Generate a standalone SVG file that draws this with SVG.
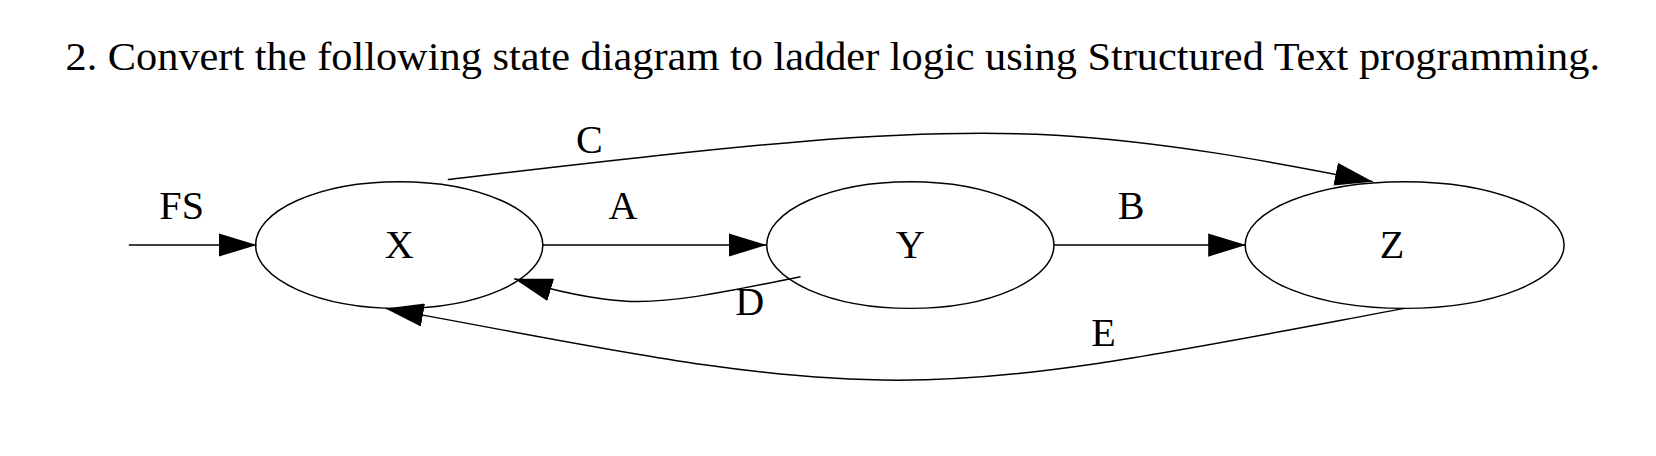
<svg xmlns="http://www.w3.org/2000/svg" width="1656" height="456" viewBox="0 0 1656 456">
<defs>
<marker id="ah" markerWidth="36" markerHeight="22" refX="36" refY="11" orient="auto" markerUnits="userSpaceOnUse"><path d="M0,0 L36,11 L0,22 Z" fill="#000"/></marker>
<style>
text{font-family:"Liberation Serif",serif;font-size:38px;fill:#000}
.n{text-anchor:middle}
ellipse{fill:none;stroke:#000;stroke-width:1.4}
.e{fill:none;stroke:#000;stroke-width:1.4;marker-end:url(#ah)}
</style>
</defs>
<rect width="1656" height="456" fill="#fff"/>
<g transform="scale(1.0561)">
<text x="62" y="66" textLength="1453" lengthAdjust="spacingAndGlyphs">2. Convert the following state diagram to ladder logic using Structured Text programming.</text>
<g id="X"><ellipse cx="378" cy="232" rx="136" ry="60"/><text class="n" x="378" y="244">X</text></g>
<g id="Y"><ellipse cx="862" cy="232" rx="136" ry="60"/><text class="n" x="862" y="244">Y</text></g>
<g id="Z"><ellipse cx="1330" cy="232" rx="151" ry="60"/><text class="n" x="1318" y="244">Z</text></g>
<g id="connectors">
<path class="e" d="M122,232 L243,232"/>
<path class="e" d="M514,232 L726,232"/>
<path class="e" d="M998,232 L1180,232"/>
<path class="e" d="M424,170 C700,138 850,120 1000,128 C1100,134 1200,152 1300,172"/>
<path class="e" d="M758,262 C680,278 630,288 590,285 C560,283 520,274 487,264"/>
<path class="e" d="M1330,292 C1100,335 980,360 850,360 C700,360 550,325 365,292"/>
</g>
<g id="labels">
<text class="n" x="172" y="207">FS</text>
<text class="n" x="558" y="145">C</text>
<text class="n" x="590" y="207">A</text>
<text class="n" x="1071" y="207">B</text>
<text class="n" x="710" y="298">D</text>
<text class="n" x="1045" y="328">E</text>
</g>
</g>
</svg>
